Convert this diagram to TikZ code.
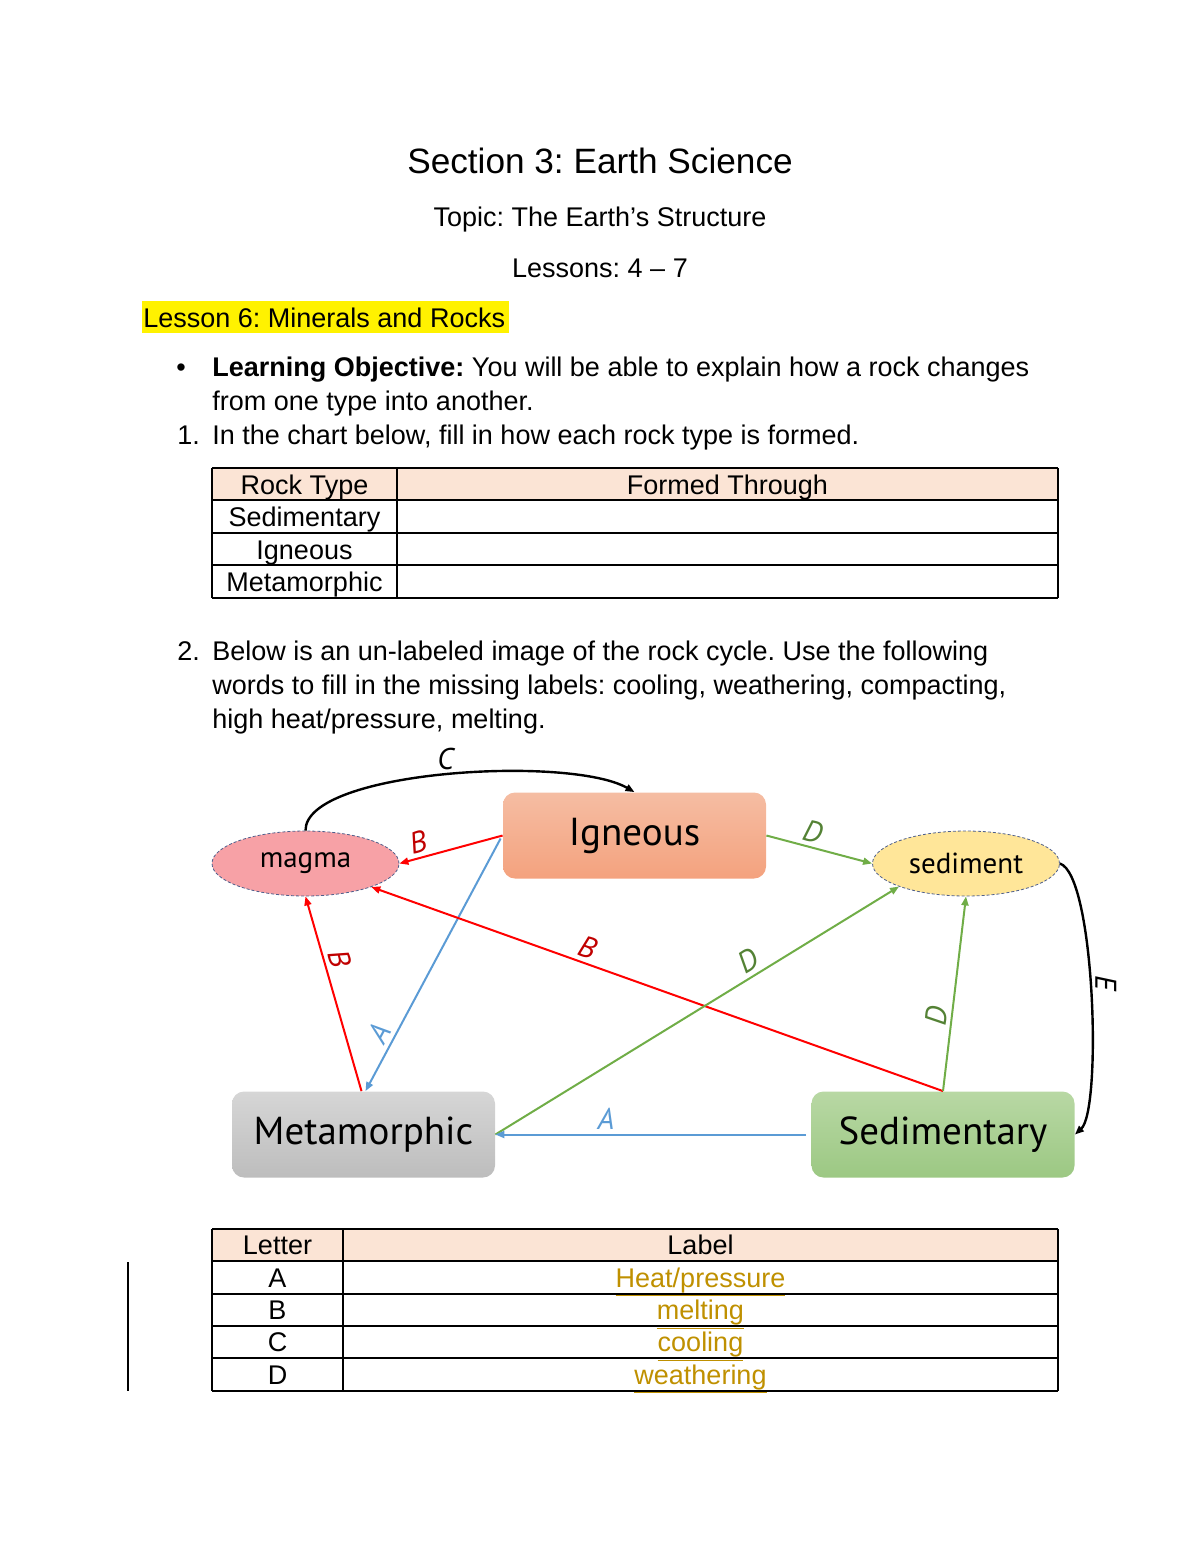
\documentclass[tikz,border=0pt]{standalone}
\usepackage{fontspec}
\setmainfont{Liberation Sans}
\newfontfamily\handfont{PT Sans}[ItalicFont=* Italic]
\usetikzlibrary{arrows.meta,shapes.geometric,calc}
\definecolor{hdr}{HTML}{FBE4D5}
\definecolor{ignTop}{HTML}{F5BDA3}
\definecolor{ignBot}{HTML}{F4A27E}
\definecolor{metTop}{HTML}{D6D6D6}
\definecolor{metBot}{HTML}{BDBDBD}
\definecolor{sedTop}{HTML}{B8D8A4}
\definecolor{sedBot}{HTML}{9CC883}
\definecolor{magmaFill}{HTML}{F7A1A6}
\definecolor{sedimFill}{HTML}{FFE699}
\definecolor{ellBorder}{HTML}{4E5F8C}
\definecolor{redLine}{HTML}{FF0000}
\definecolor{blueLine}{HTML}{5B9BD5}
\definecolor{greenLine}{HTML}{70AD47}
\definecolor{redLab}{HTML}{C00000}
\definecolor{greenLab}{HTML}{548235}
\definecolor{goldText}{HTML}{BF9000}
\frenchspacing
\begin{document}
\begin{tikzpicture}[x=0.5pt,y=-0.5pt,
  titletext/.style={font=\fontsize{17.6}{20}\selectfont, inner sep=0pt, anchor=base},
  bodytext/.style={font=\fontsize{13.5}{16}\selectfont, inner sep=0pt},
  tabtext/.style={font=\fontsize{13.5}{16}\selectfont, inner sep=0pt, anchor=base},
  rockbox/.style={rounded corners=6pt, minimum width=131.5pt, minimum height=43pt, inner sep=0pt,
     font=\handfont\fontsize{19.5}{22}\selectfont},
  rockell/.style={ellipse, minimum width=93.5pt, minimum height=32.5pt, inner sep=0pt,
     draw=ellBorder, dashed, dash pattern=on 1.5pt off 1pt, line width=0.4pt,
     font=\handfont\fontsize{14.5}{17}\selectfont},
  conn/.style={line width=1pt, -{Triangle[length=4.5pt,width=3.5pt]}},
  lab/.style={font=\handfont\itshape\fontsize{15}{18}\selectfont, inner sep=2pt},
  tabline/.style={line width=0.7pt, draw=black}
]
\useasboundingbox (0,0) rectangle (1200,1553);

% ---------- heading ----------
\node[titletext] (title) at (600,173.5) {Section 3: Earth Science};
\node[bodytext, anchor=base] (topic) at (600,226) {Topic: The Earth’s Structure};
\node[bodytext, anchor=base] (lessons) at (600,277) {Lessons: 4 – 7};
\fill[yellow] (142,301) rectangle (509,333);
\node[bodytext, anchor=base west] (lesson6) at (143,327) {Lesson 6: Minerals and Rocks};
\node[bodytext, anchor=base] (bullet) at (181,376) {•};
\node[bodytext, anchor=base west] (obj1) at (212,376) {\textbf{Learning Objective:} You will be able to explain how a rock changes};
\node[bodytext, anchor=base west] (obj2) at (212,410) {from one type into another.};
\node[bodytext, anchor=base west] (n1) at (177,444) {1.};
\node[bodytext, anchor=base west] (q1) at (212,444) {In the chart below, fill in how each rock type is formed.};

% ---------- table 1 ----------
\fill[hdr] (212,468) rectangle (1058,500);
\foreach \yy in {468,500,533,565,598} \draw[tabline] (212,\yy) -- (1058,\yy);
\foreach \xx in {212,397,1058} \draw[tabline] (\xx,468) -- (\xx,598);
\node[tabtext] (t1h1) at (304.5,494) {Rock Type};
\node[tabtext] (t1h2) at (727.5,494) {Formed Through};
\node[tabtext] (t1r1) at (304.5,526.5) {Sedimentary};
\node[tabtext] (t1r2) at (304.5,559) {Igneous};
\node[tabtext] (t1r3) at (304.5,591.5) {Metamorphic};

% ---------- question 2 ----------
\node[bodytext, anchor=base west] (n2) at (177,660) {2.};
\node[bodytext, anchor=base west] (q2a) at (212,660) {Below is an un-labeled image of the rock cycle. Use the following};
\node[bodytext, anchor=base west] (q2b) at (212,694) {words to fill in the missing labels: cooling, weathering, compacting,};
\node[bodytext, anchor=base west] (q2c) at (212,728) {high heat/pressure, melting.};

% ---------- rock cycle ----------
\node[rockbox, top color=ignTop, bottom color=ignBot] (ign) at (634.5,835.5) {Igneous};
\node[rockbox, top color=metTop, bottom color=metBot] (meta) at (363.5,1134.5) {Metamorphic};
\node[rockbox, top color=sedTop, bottom color=sedBot] (sedi) at (943,1134.5) {Sedimentary};
\node[rockell, fill=magmaFill] (magma) at (305.5,863.5) {magma};
\node[rockell, fill=sedimFill] (sed) at (966,863.5) {sediment};

% C: magma -> Igneous
\draw[conn, black, line width=1.2pt] (magma.north) .. controls (305,770) and (570,755) .. (ign.north)
  node[lab, pos=0.5, above, black] {C};
% B: Igneous -> magma
\draw[conn, redLine] (ign.west) -- (magma.east)
  node[lab, pos=0.78, sloped, above, redLab] {B};
% D: Igneous -> sediment
\draw[conn, greenLine] (ign.east) -- (sed.west)
  node[lab, pos=0.4, sloped, above, greenLab] {D};
% A: Igneous -> Metamorphic
\draw[conn, blueLine] ($(ign.west)+(-2,3)$) -- ($(meta.north)+(2,0)$)
  node[lab, pos=0.8, sloped, above, blueLine] {A};
% B: Metamorphic -> magma
\draw[conn, redLine] ($(meta.north)+(-2,0)$) -- (magma.south)
  node[lab, pos=0.66, sloped, above, redLab] {B};
% B: Sedimentary -> magma
\draw[conn, redLine] (sedi.north) -- (magma)
  node[lab, pos=0.63, sloped, above, redLab] {B};
% D: Sedimentary -> sediment
\draw[conn, greenLine] (sedi.north) -- (sed.south)
  node[lab, pos=0.375, sloped, above, greenLab] {D};
% D: Metamorphic -> sediment
\draw[conn, greenLine] (meta.east) -- (sed.199)
  node[lab, pos=0.645, sloped, above, greenLab] {D};
% A: Sedimentary -> Metamorphic
\draw[conn, blueLine] ($(sedi.west)+(-5,0)$) -- (meta.east)
  node[lab, pos=0.644, above, blueLine] {A};
% E: sediment -> Sedimentary
\draw[conn, black, line width=1.2pt] (sed.east) .. controls (1095,875) and (1102,1110) .. (sedi.east)
  node[lab, pos=0.47, anchor=south, rotate=-90, black] {E};

% ---------- table 2 ----------
\fill[hdr] (212,1229) rectangle (1058,1261);
\foreach \yy in {1229,1261,1294,1326,1358,1391} \draw[tabline] (212,\yy) -- (1058,\yy);
\foreach \xx in {212,343,1058} \draw[tabline] (\xx,1229) -- (\xx,1391);
\draw[line width=0.8pt] (128,1262) -- (128,1391);
\node[tabtext] (t2h1) at (277.5,1254) {Letter};
\node[tabtext] (t2h2) at (700.5,1254) {Label};
\node[tabtext] (t2a) at (277.5,1287) {A};
\node[tabtext] (t2b) at (277.5,1319.5) {B};
\node[tabtext] (t2c) at (277.5,1351.5) {C};
\node[tabtext] (t2d) at (277.5,1384) {D};
\node[tabtext, text=goldText] (t2av) at (700.5,1287) {\underline{Heat/pressure}};
\node[tabtext, text=goldText] (t2bv) at (700.5,1319.5) {\underline{melting}};
\node[tabtext, text=goldText] (t2cv) at (700.5,1351.5) {\underline{cooling}};
\node[tabtext, text=goldText] (t2dv) at (700.5,1384) {\underline{weathering}};
\end{tikzpicture}
\end{document}
